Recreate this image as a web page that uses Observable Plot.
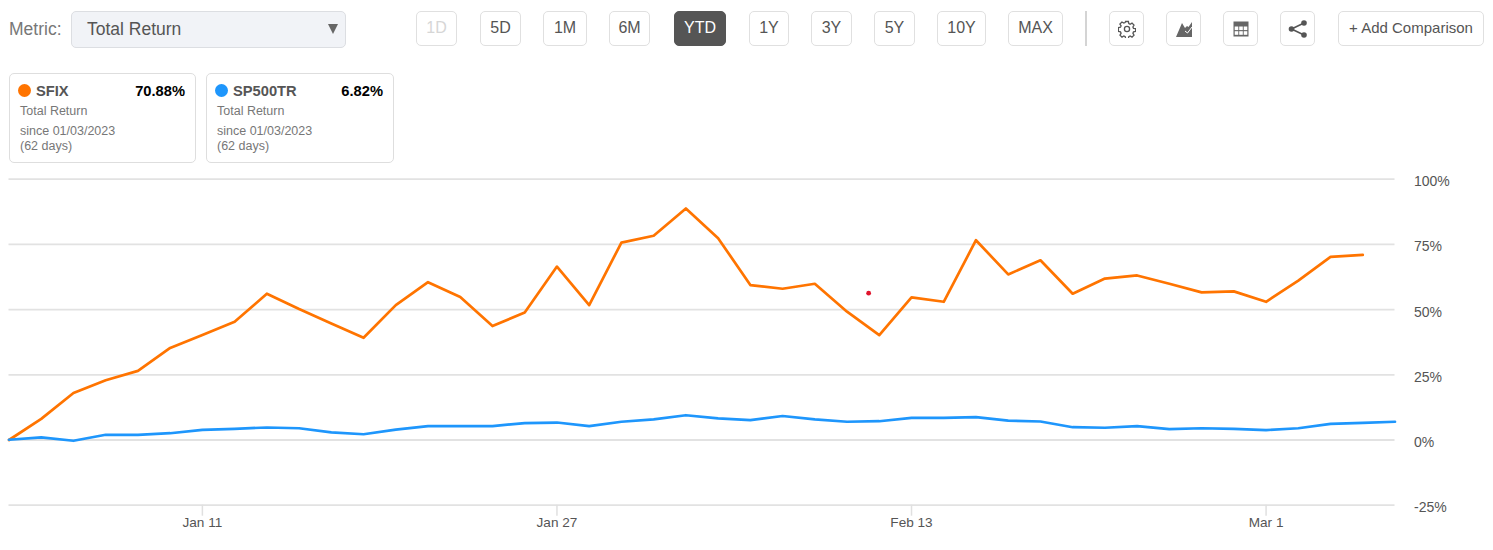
<!DOCTYPE html>
<html><head><meta charset="utf-8">
<script src="https://cdn.jsdelivr.net/npm/d3@7"></script>
<script src="https://cdn.jsdelivr.net/npm/@observablehq/plot@0.6"></script>
<style>
html,body{margin:0;padding:0;background:#fff;font-family:"Liberation Sans",Arial,sans-serif;}
#page{position:relative;width:1493px;height:550px;overflow:hidden;}
#head{position:relative;height:170px;}
#head>*{position:absolute;box-sizing:border-box;}
.metric{left:9px;top:18px;font-size:17.5px;color:#777;line-height:22px;}
.select{left:71px;top:11px;width:275px;height:37px;background:#f1f3f7;border:1px solid #dcdee2;border-radius:5px;color:#555;font-size:17.5px;line-height:34px;padding-left:15px;}
.arrow{left:328px;top:24px;width:0;height:0;border-left:5.5px solid transparent;border-right:5.5px solid transparent;border-top:10px solid #666;}
.btn{top:11px;height:35px;border:1px solid #e0e0e0;border-radius:5px;background:#fff;color:#555;font-size:16px;line-height:32px;text-align:center;}
.btn.off{color:#d6d6d6;}
.btn.on{background:#555;color:#fff;border-color:#555;}
.btn svg{display:block;margin:8px auto 0;}
.sep{left:1085px;top:11px;width:2px;height:35px;background:#d4d4d4;}
.card{top:73px;height:90px;border:1px solid #dedede;border-radius:5px;color:#777;font-size:12.5px;}
.card>*{position:absolute;white-space:nowrap;}
.dot{left:8px;top:10px;width:13px;height:13px;border-radius:50%;}
.sym{left:26px;top:9px;font-size:14.7px;font-weight:bold;color:#555;line-height:16px;}
.val{right:10px;top:9px;font-size:14.7px;font-weight:bold;color:#000;line-height:16px;}
.l1{left:10px;top:30px;line-height:14px;}
.l2{left:10px;top:49.5px;line-height:15px;}
svg{display:block;}
</style></head><body>
<div id="page"><div id="head"></div><div id="chart"></div></div>
<script>
const days = ["Jan 3","Jan 4","Jan 5","Jan 6","Jan 9","Jan 10","Jan 11","Jan 12","Jan 13","Jan 17","Jan 18","Jan 19","Jan 20","Jan 23","Jan 24","Jan 25","Jan 26","Jan 27","Jan 30","Jan 31","Feb 1","Feb 2","Feb 3","Feb 6","Feb 7","Feb 8","Feb 9","Feb 10","Feb 13","Feb 14","Feb 15","Feb 16","Feb 17","Feb 21","Feb 22","Feb 23","Feb 24","Feb 27","Feb 28","Mar 1","Mar 2","Mar 3","Mar 6","Mar 7"];
const sfix = [0,8.1,18,22.9,26.5,35.3,40.3,45.3,56.1,50.2,44.7,39.2,51.7,60.5,54.8,43.7,48.9,66.5,51.7,75.7,78.3,88.8,77.4,59.4,58,59.9,49.2,40.2,54.7,53,76.6,63.5,68.9,56.1,61.9,63.1,59.9,56.6,57,53,61.1,70.2,71];
const sp500 = [0.1,1,-0.3,2,2,2.6,3.9,4.3,4.8,4.5,2.9,2.2,4,5.3,5.3,5.3,6.5,6.7,5.3,7,7.9,9.5,8.3,7.6,9.2,7.9,7,7.2,8.5,8.5,8.8,7.4,7.1,4.9,4.7,5.3,4.2,4.5,4.3,3.8,4.5,6.2,6.6,7];
const xTickLabels = ["Jan 11","Jan 27","Feb 13","Mar 1"];
const yTicks = [-25,0,25,50,75,100];
const strayDotIndex = [26.67];
const strayDotValue = [56.3];
const seriesColors = {SFIX:"#ff7400", SP500TR:"#1e96fc"};
const ranges = ["1D","5D","1M","6M","YTD","1Y","3Y","5Y","10Y","MAX"];
const rangeBoxes = [[416,41],[480,41],[543,44],[609,41],[674,52],[749,40],[811,41],[874,41],[937,49],[1008,55]];
const cards = [
  {sym:"SFIX", val:"70.88%", left:9, width:187},
  {sym:"SP500TR", val:"6.82%", left:206, width:188}
];

const head = document.getElementById("head");
function add(cls, html, style){
  const d = document.createElement("div");
  d.className = cls; d.innerHTML = html || "";
  if(style) d.style.cssText = style;
  head.appendChild(d); return d;
}
add("metric","Metric:");
add("select","Total Return");
add("arrow");
ranges.forEach((r,i)=>{
  add("btn"+(r==="1D"?" off":"")+(r==="YTD"?" on":""), r, `left:${rangeBoxes[i][0]}px;width:${rangeBoxes[i][1]}px`);
});
add("sep");
const icons = [
 `<svg width="18" height="18" viewBox="0 0 18 18" fill="none" stroke="#555" stroke-width="1.3"><circle cx="9" cy="9" r="2.6"/><path d="M7.6 1.5h2.8l.4 2.1 1.3.6 1.9-1.1 2 2-1.1 1.9.6 1.3 2.1.4v2.8l-2.1.4-.6 1.3 1.1 1.9-2 2-1.9-1.1-1.3.6-.4 2.1H7.6l-.4-2.1-1.3-.6-1.9 1.1-2-2 1.1-1.9-.6-1.3-2.1-.4V7.6l2.1-.4.6-1.3L1.9 4l2-2 1.9 1.1 1.3-.6z"/></svg>`,
 `<svg width="18" height="18" viewBox="0 0 18 18"><path d="M1 17L7 3l3 5 2-2 1.5 1L17 2v15z" fill="#666"/><path d="M10 11l2.5 2L17 7" fill="none" stroke="#fff" stroke-width="1"/></svg>`,
 `<svg width="18" height="18" viewBox="0 0 18 18"><rect x="1.5" y="1.5" width="15" height="15" fill="#666"/><g fill="#fff"><rect x="2.7" y="6.5" width="3.6" height="3.6"/><rect x="7.2" y="6.5" width="3.6" height="3.6"/><rect x="11.7" y="6.5" width="3.6" height="3.6"/><rect x="2.7" y="11.2" width="3.6" height="3.6"/><rect x="7.2" y="11.2" width="3.6" height="3.6"/><rect x="11.7" y="11.2" width="3.6" height="3.6"/></g></svg>`,
 `<svg width="20" height="18" viewBox="0 0 20 18"><path d="M16 3L3.5 9 16 15" fill="none" stroke="#555" stroke-width="1.6"/><circle cx="16" cy="3" r="2.8" fill="#555"/><circle cx="3.5" cy="9" r="2.8" fill="#555"/><circle cx="16" cy="15" r="2.8" fill="#555"/></svg>`
];
[1109,1166,1223,1280].forEach((x,i)=>add("btn",icons[i],`left:${x}px;width:35px`));
add("btn","+ Add Comparison","left:1338px;width:146px;font-size:15px");
cards.forEach(c=>{
  add("card",`<div class="dot" style="background:${seriesColors[c.sym]}"></div><div class="sym">${c.sym}</div><div class="val">${c.val}</div><div class="l1">Total Return</div><div class="l2">since 01/03/2023<br>(62 days)</div>`,`left:${c.left}px;width:${c.width}px`);
});

const toRows = (vals,name)=>vals.map((v,i)=>({i,v,name}));
const font = "'Liberation Sans',Arial,sans-serif";
const plot = Plot.plot({
  width:1493, height:380,
  marginLeft:8.5, marginRight:98.5, marginTop:8.7, marginBottom:45.3,
  style:{fontFamily:font, fontSize:"14px", background:"transparent", overflow:"visible"},
  x:{type:"linear", domain:[0,days.length-1]},
  y:{type:"linear", domain:[-25,100]},
  marks:[
    Plot.ruleY(yTicks,{stroke:"#e2e2e2",strokeWidth:1.8}),
    Plot.axisY({anchor:"right",ticks:yTicks,tickSize:0,tickPadding:19,textAnchor:"start",dy:2.5,fontSize:14,fill:"#555",color:"#555",tickFormat:d=>d+"%",label:null}),
    Plot.axisX({anchor:"bottom",ticks:xTickLabels.map(l=>days.indexOf(l)),tickSize:11,tickPadding:1.5,stroke:"#e0e0e0",strokeWidth:1.5,fill:"#555",fontSize:13.6,tickFormat:i=>days[i],label:null}),
    Plot.line(toRows(sfix,"SFIX"),{x:"i",y:"v",stroke:seriesColors.SFIX,strokeWidth:2.7,curve:"linear",strokeLinejoin:"round"}),
    Plot.line(toRows(sp500,"SP500TR"),{x:"i",y:"v",stroke:seriesColors.SP500TR,strokeWidth:2.7,curve:"linear",strokeLinejoin:"round"}),
    Plot.dot(strayDotIndex.map((x,k)=>({x,y:strayDotValue[k]})),{x:"x",y:"y",r:2.4,fill:"#e0142c",stroke:"none"})
  ]
});
document.getElementById("chart").appendChild(plot);
</script>
</body></html>
